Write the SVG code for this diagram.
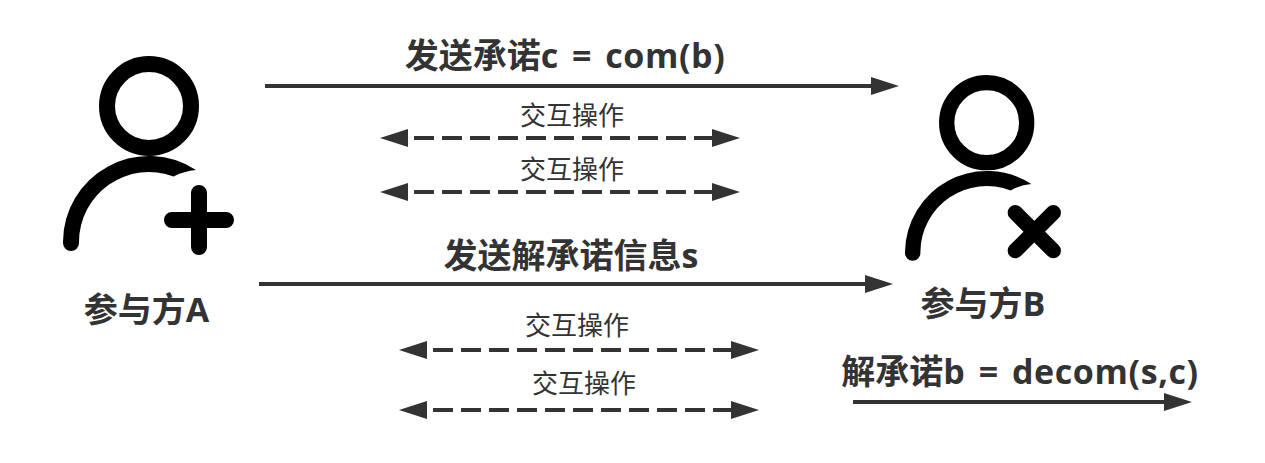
<svg xmlns="http://www.w3.org/2000/svg" width="1265" height="463" viewBox="0 0 1265 463">
<style>
text{font-family:"Open Sans","Noto Sans CJK SC",sans-serif;fill:#333}
.b{font-weight:700;font-size:34px}
.eq{word-spacing:5px}
.lat{letter-spacing:.6px}
.r{font-size:26px}
.solid{stroke:#333;stroke-width:4;fill:none}
.dash{stroke:#333;stroke-width:4;fill:none;stroke-dasharray:20 8}
.ah{fill:#333}
</style>
<rect width="1265" height="463" fill="#fff"/>
<g id="party-a">
<circle cx="149" cy="106" r="42" fill="none" stroke="#000" stroke-width="16"/>
<path d="M196 170A86 86 0 0 0 63 242V243A8 8 0 0 0 79 243V242A70 70 0 0 1 173.500 176.500Q184 171 196 170Z" fill="#000"/>
<path d="M172 220H226M199 193V247" fill="none" stroke="#000" stroke-width="16" stroke-linecap="round"/>
<text class="b" x="146.500" y="322" text-anchor="middle">参与方A</text>
</g>
<g id="party-b">
<circle cx="986.700" cy="122.700" r="40" fill="none" stroke="#000" stroke-width="15.300"/>
<path d="M1031.300 184A82 82 0 0 0 905 252V253A7.700 7.700 0 0 0 920.400 253V252A66.300 66.300 0 0 1 1010.700 190.500Q1020 185 1031.300 184Z" fill="#000"/>
<path d="M1015.300 212.700L1053.300 250.700M1053.300 212.700L1015.300 250.700" fill="none" stroke="#000" stroke-width="15.300" stroke-linecap="round"/>
<text class="b" x="983" y="316" text-anchor="middle">参与方B</text>
</g>
<g id="connectors">
<path class="solid" d="M265 86H875"/><path class="ah" d="M899 86L871 77V95Z"/>
<path class="dash" d="M414 138H714"/><path class="ah" d="M380 138L408 129V147Z"/><path class="ah" d="M740 138L712 129V147Z"/>
<path class="dash" d="M414 192H714"/><path class="ah" d="M380 192L408 183V201Z"/><path class="ah" d="M740 192L712 183V201Z"/>
<path class="solid" d="M259 284H868"/><path class="ah" d="M893 284L865 275V293Z"/>
<path class="dash" d="M433 350H733"/><path class="ah" d="M399 350L427 341V359Z"/><path class="ah" d="M759 350L731 341V359Z"/>
<path class="dash" d="M433 410H733"/><path class="ah" d="M399 410L427 401V419Z"/><path class="ah" d="M759 410L731 401V419Z"/>
<path class="solid" d="M853 402H1168"/><path class="ah" d="M1192 402L1164 393V411Z"/>
</g>
<g id="labels">
<text class="b eq" x="565" y="68" text-anchor="middle">发送承诺c = <tspan class="lat">com(b)</tspan></text>
<text class="r" x="572" y="125" text-anchor="middle">交互操作</text>
<text class="r" x="572" y="179" text-anchor="middle">交互操作</text>
<text class="b" x="571" y="268" text-anchor="middle">发送解承诺信息s</text>
<text class="r" x="577" y="335" text-anchor="middle">交互操作</text>
<text class="r" x="584" y="393" text-anchor="middle">交互操作</text>
<text class="b eq" x="1020" y="384" text-anchor="middle">解承诺b = <tspan class="lat">decom(s,c)</tspan></text>
</g>
</svg>
